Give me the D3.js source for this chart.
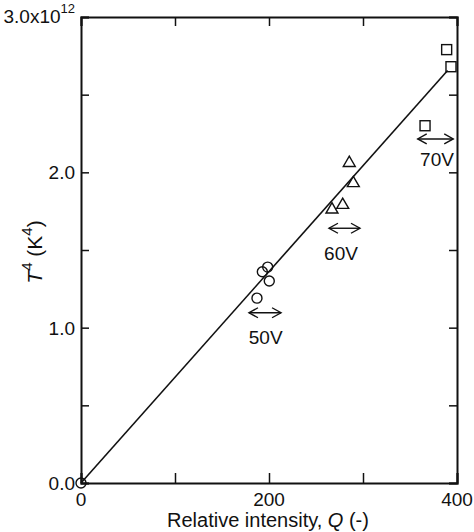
<!DOCTYPE html>
<html>
<head>
<meta charset="utf-8">
<script src="https://cdn.jsdelivr.net/npm/d3@7"></script>
<style>
  html, body { margin: 0; padding: 0; background: #fff; }
  svg text { font-family: "Liberation Sans", Arial, Helvetica, sans-serif; fill: #111; }
</style>
</head>
<body>
<svg id="chart" width="474" height="532"></svg>
<script>
// ---- data (Q, T^4 in units of 1e12 K^4) ----
const circleQ = [0, 198.6, 192.9, 200.3, 187.2];
const circleT4 = [0, 1.39, 1.36, 1.30, 1.19];
const triangleQ = [285.4, 289.7, 278.4, 267.0];
const triangleT4 = [2.06, 1.93, 1.79, 1.76];
const squareQ = [389.0, 393.6, 366.0];
const squareT4 = [2.79, 2.68, 2.30];
const fitQ = [0, 390];
const fitT4 = [0, 2.655];
const xTickValues = [0, 100, 200, 300, 400];
const xTickLabels = ["0", "", "200", "", "400"];
const yTickValues = [0, 0.5, 1, 1.5, 2, 2.5, 3];
const yTickLabels = ["0.0", "", "1.0", "", "2.0", "", ""];
const voltLabels = ["50V", "60V", "70V"];
const arrowQ0 = [178.7, 263.8, 358.2];
const arrowQ1 = [212.8, 296.8, 396.0];
const arrowT4 = [1.096, 1.64, 2.215];
const labelQ = [196.5, 276.6, 378.7];
const labelT4 = [0.895, 1.436, 2.04];

(function () {
const svg = d3.select("#chart");
const mLeft = 81, mRight = 457, mTop = 17, mBottom = 483;
const x = d3.scaleLinear().domain([0, 400]).range([mLeft, mRight]);
const y = d3.scaleLinear().domain([0, 3]).range([mBottom, mTop]);
const ink = "#111";

const fs = 19;
const gB = svg.append("g").attr("transform", `translate(0,${mBottom})`)
  .call(d3.axisTop(x).tickValues(xTickValues).tickSize(10).tickFormat(""));
const gT = svg.append("g").attr("transform", `translate(0,${mTop})`)
  .call(d3.axisBottom(x).tickValues(xTickValues).tickSize(9).tickFormat(""));
const gL = svg.append("g").attr("transform", `translate(${mLeft},0)`)
  .call(d3.axisRight(y).tickValues(yTickValues).tickSize(8).tickFormat(""));
const gR = svg.append("g").attr("transform", `translate(${mRight},0)`)
  .call(d3.axisLeft(y).tickValues(yTickValues).tickSize(8).tickFormat(""));
[gB, gT, gL, gR].forEach(g => {
  g.select(".domain").attr("stroke", ink).attr("stroke-width", 2);
  g.selectAll(".tick line").attr("stroke", ink).attr("stroke-width", 1.5);
});

svg.append("g").selectAll("text").data(xTickValues).join("text")
  .attr("x", d => x(d)).attr("y", mBottom + 23)
  .attr("text-anchor", "middle").attr("font-size", fs)
  .text((d, i) => xTickLabels[i]);

svg.append("g").selectAll("text").data(yTickValues).join("text")
  .attr("x", mLeft - 6).attr("y", d => y(d)).attr("dy", "0.36em")
  .attr("text-anchor", "end").attr("font-size", fs)
  .text((d, i) => yTickLabels[i]);

const tl = svg.append("text").attr("x", mLeft - 6).attr("y", y(3) + 6)
  .attr("text-anchor", "end").attr("font-size", fs);
tl.append("tspan").text("3.0x10");
tl.append("tspan").attr("font-size", 13).attr("dy", -10).text("12");

svg.append("text").attr("x", (mLeft + mRight) / 2 - 1).attr("y", 527)
  .attr("text-anchor", "middle").attr("font-size", 20)
  .call(t => {
    t.append("tspan").text("Relative intensity, ");
    t.append("tspan").attr("font-style", "italic").text("Q");
    t.append("tspan").text(" (-)");
  });
const yt = svg.append("text").attr("transform", `translate(42,${(mTop + mBottom) / 2 + 2}) rotate(-90)`)
  .attr("text-anchor", "middle").attr("font-size", 21);
yt.append("tspan").attr("font-style", "italic").text("T");
yt.append("tspan").attr("font-size", 15).attr("dy", -10).text("4");
yt.append("tspan").attr("dy", 10).text(" (K");
yt.append("tspan").attr("font-size", 15).attr("dy", -10).text("4");
yt.append("tspan").attr("dy", 10).text(")");

const line = d3.line().x(d => x(d[0])).y(d => y(d[1]));
svg.append("path").datum(d3.zip(fitQ, fitT4)).attr("d", line)
  .attr("fill", "none").attr("stroke", ink).attr("stroke-width", 1.6);

const sw = 1.4;
svg.append("g").selectAll("circle").data(d3.zip(circleQ, circleT4)).join("circle")
  .attr("cx", d => x(d[0])).attr("cy", d => y(d[1])).attr("r", 5)
  .attr("fill", "none").attr("stroke", ink).attr("stroke-width", sw);
const tri = d3.symbol().type(d3.symbolTriangle).size(62);
svg.append("g").selectAll("path").data(d3.zip(triangleQ, triangleT4)).join("path")
  .attr("d", tri).attr("transform", d => `translate(${x(d[0])},${y(d[1])})`)
  .attr("fill", "none").attr("stroke", ink).attr("stroke-width", sw);
svg.append("g").selectAll("rect").data(d3.zip(squareQ, squareT4)).join("rect")
  .attr("x", d => x(d[0]) - 5).attr("y", d => y(d[1]) - 5)
  .attr("width", 10).attr("height", 10)
  .attr("fill", "none").attr("stroke", ink).attr("stroke-width", sw);

const ag = svg.append("g").attr("fill", "none").attr("stroke", ink).attr("stroke-width", 1.4);
voltLabels.forEach((lab, i) => {
  const x0 = x(arrowQ0[i]), x1 = x(arrowQ1[i]), yy = y(arrowT4[i]);
  ag.append("line").attr("x1", x0).attr("x2", x1).attr("y1", yy).attr("y2", yy);
  ag.append("path").attr("d", `M${x0 + 9},${yy - 5}L${x0},${yy}L${x0 + 9},${yy + 5}`);
  ag.append("path").attr("d", `M${x1 - 9},${yy - 5}L${x1},${yy}L${x1 - 9},${yy + 5}`);
  svg.append("text").attr("x", x(labelQ[i])).attr("y", y(labelT4[i]))
    .attr("text-anchor", "middle").attr("font-size", fs).text(lab);
});
})();
</script>
</body>
</html>
